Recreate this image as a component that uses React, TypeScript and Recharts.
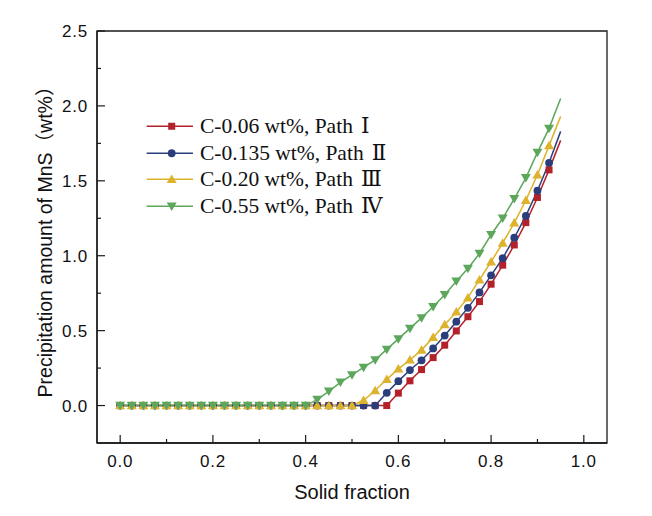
import React from 'react';
import { LineChart, Line, XAxis, YAxis, Legend, Label, ReferenceArea } from 'recharts';

// Solid fraction sampled every 0.025
const solidFraction = [
  0, 0.025, 0.05, 0.075, 0.1, 0.125, 0.15, 0.175, 0.2, 0.225,
  0.25, 0.275, 0.3, 0.325, 0.35, 0.375, 0.4, 0.425, 0.45, 0.475,
  0.5, 0.525, 0.55, 0.575, 0.6, 0.625, 0.65, 0.675, 0.7, 0.725,
  0.75, 0.775, 0.8, 0.825, 0.85, 0.875, 0.9, 0.925, 0.95,
];

// Precipitated MnS (wt%) for each composition / path
const pathI = [
  0, 0, 0, 0, 0, 0, 0, 0, 0, 0,
  0, 0, 0, 0, 0, 0, 0, 0, 0, 0,
  0, 0, 0, 0, 0.083, 0.165, 0.24, 0.32, 0.403, 0.498,
  0.593, 0.694, 0.81, 0.937, 1.072, 1.221, 1.389, 1.573, 1.77,
];
const pathII = [
  0, 0, 0, 0, 0, 0, 0, 0, 0, 0,
  0, 0, 0, 0, 0, 0, 0, 0, 0, 0,
  0, 0, 0, 0.085, 0.163, 0.237, 0.302, 0.381, 0.467, 0.56,
  0.652, 0.755, 0.869, 0.983, 1.12, 1.266, 1.434, 1.62, 1.83,
];
const pathIII = [
  0, 0, 0, 0, 0, 0, 0, 0, 0, 0,
  0, 0, 0, 0, 0, 0, 0, 0, 0, 0,
  0, 0.035, 0.1, 0.175, 0.245, 0.305, 0.37, 0.455, 0.54, 0.625,
  0.72, 0.84, 0.96, 1.085, 1.22, 1.37, 1.54, 1.735, 1.93,
];
const pathIV = [
  0, 0, 0, 0, 0, 0, 0, 0, 0, 0,
  0, 0, 0, 0, 0, 0, 0, 0.04, 0.095, 0.155,
  0.205, 0.255, 0.305, 0.375, 0.445, 0.515, 0.585, 0.66, 0.74, 0.83,
  0.915, 1.015, 1.14, 1.25, 1.38, 1.52, 1.69, 1.85, 2.05,
];

const seriesNames = [
  'C-0.06 wt%, Path Ⅰ',
  'C-0.135 wt%, Path Ⅱ',
  'C-0.20 wt%, Path Ⅲ',
  'C-0.55 wt%, Path Ⅳ',
];

const xTicks = [0, 0.1, 0.2, 0.3, 0.4, 0.5, 0.6, 0.7, 0.8, 0.9, 1.0];
const xMajorTicks = [0, 0.2, 0.4, 0.6, 0.8, 1.0];
const yTicks = [0, 0.25, 0.5, 0.75, 1.0, 1.25, 1.5, 1.75, 2.0, 2.25, 2.5];
const yMajorTicks = [0, 0.5, 1.0, 1.5, 2.0, 2.5];

const xDomain = [-0.05, 1.05];
const yDomain = [-0.25, 2.5];

const data = solidFraction.map((fs, i) => ({
  fs,
  p1: pathI[i],
  p2: pathII[i],
  p3: pathIII[i],
  p4: pathIV[i],
}));

type MarkerKind = 'square' | 'circle' | 'triUp' | 'triDown';

const seriesStyles: { key: string; color: string; marker: MarkerKind }[] = [
  { key: 'p1', color: '#B3212B', marker: 'square' },
  { key: 'p2', color: '#2B3E7C', marker: 'circle' },
  { key: 'p3', color: '#DDB22C', marker: 'triUp' },
  { key: 'p4', color: '#5CA75B', marker: 'triDown' },
];

const AXIS_COLOR = '#1a1a1a';
const TICK_MARGIN = 10;
const tickFont = "'Liberation Sans', Arial, sans-serif";
const legendFont = "'Liberation Serif', 'Times New Roman', 'DejaVu Serif', 'Noto Sans CJK SC', serif";

function Marker({ kind, cx, cy, color }: { kind: MarkerKind; cx: number; cy: number; color: string }) {
  if (kind === 'square') {
    return <rect x={cx - 3.5} y={cy - 3.5} width={7} height={7} fill={color} />;
  }
  if (kind === 'circle') {
    return <circle cx={cx} cy={cy} r={3.9} fill={color} />;
  }
  if (kind === 'triUp') {
    return (
      <polygon
        points={`${cx},${cy - 4.8} ${cx + 5},${cy + 3.7} ${cx - 5},${cy + 3.7}`}
        fill={color}
      />
    );
  }
  return (
    <polygon
      points={`${cx},${cy + 4.8} ${cx + 5},${cy - 3.7} ${cx - 5},${cy - 3.7}`}
      fill={color}
    />
  );
}

// Every sample gets a symbol except the closing point of each curve
function makeDot(kind: MarkerKind, color: string) {
  return (props: any) => {
    const { cx, cy, index } = props;
    if (index === solidFraction.length - 1 || cx == null || cy == null) {
      return <g key={`d-${index}`} />;
    }
    return (
      <g key={`d-${index}`}>
        <Marker kind={kind} cx={cx} cy={cy} color={color} />
      </g>
    );
  };
}

const isMajor = (list: number[], v: number) => list.some((t) => Math.abs(t - v) < 1e-9);

function XTick(props: any) {
  const { x, y, payload } = props;
  const axisY = y - TICK_MARGIN;
  const v = payload.value as number;
  const major = isMajor(xMajorTicks, v);
  return (
    <g>
      <line x1={x} x2={x} y1={axisY} y2={axisY - (major ? 8 : 4)} stroke={AXIS_COLOR} strokeWidth={1.2} />
      {major && (
        <text
          x={x}
          y={axisY + 24}
          textAnchor="middle"
          fontFamily={tickFont}
          fontSize={17}
          letterSpacing={0.8}
          fill="#111"
        >
          {v.toFixed(1)}
        </text>
      )}
    </g>
  );
}

function YTick(props: any) {
  const { x, y, payload } = props;
  const axisX = x + TICK_MARGIN;
  const v = payload.value as number;
  const major = isMajor(yMajorTicks, v);
  return (
    <g>
      <line x1={axisX} x2={axisX + (major ? 8 : 4)} y1={y} y2={y} stroke={AXIS_COLOR} strokeWidth={1.2} />
      {major && (
        <text
          x={axisX - 9}
          y={y + 6}
          textAnchor="end"
          fontFamily={tickFont}
          fontSize={17}
          letterSpacing={0.8}
          fill="#111"
        >
          {v.toFixed(1)}
        </text>
      )}
    </g>
  );
}

function LegendContent() {
  const rowH = 26.5;
  return (
    <div style={{ fontFamily: legendFont, fontSize: 21.5, color: '#111', lineHeight: `${rowH}px` }}>
      {seriesStyles.map((s, i) => {
        const name = seriesNames[i];
        const cut = name.lastIndexOf(' ');
        return (
          <div key={s.key} style={{ display: 'flex', alignItems: 'center', height: rowH, whiteSpace: 'nowrap' }}>
            <svg width={54} height={rowH} style={{ display: 'block' }}>
              <line x1={0.7} x2={47} y1={rowH / 2} y2={rowH / 2} stroke={s.color} strokeWidth={1.5} />
              <Marker kind={s.marker} cx={25.7} cy={rowH / 2} color={s.color} />
            </svg>
            <span>{name.slice(0, cut)}</span>
            <span style={{ marginLeft: 8 }}>{name.slice(cut + 1)}</span>
          </div>
        );
      })}
    </div>
  );
}

export default function App() {
  return (
    <div style={{ position: 'absolute', left: 0, top: 0, width: 652, height: 516, background: '#fff' }}>
      <LineChart
        width={652}
        height={516}
        data={data}
        margin={{ top: 31, right: 45, bottom: 43, left: 37 }}
      >
        <XAxis
          dataKey="fs"
          type="number"
          domain={xDomain}
          allowDataOverflow
          ticks={xTicks}
          interval={0}
          tickSize={0}
          tickMargin={TICK_MARGIN}
          tickLine={false}
          tick={<XTick />}
          height={30}
          axisLine={{ stroke: AXIS_COLOR, strokeWidth: 1.3 }}
        >
          <Label
            value="Solid fraction"
            position="bottom"
            offset={12}
            style={{ fontFamily: tickFont, fontSize: 20, fill: '#111' }}
          />
        </XAxis>
        <YAxis
          type="number"
          domain={yDomain}
          allowDataOverflow
          ticks={yTicks}
          interval={0}
          tickSize={0}
          tickMargin={TICK_MARGIN}
          tickLine={false}
          tick={<YTick />}
          width={60}
          axisLine={{ stroke: AXIS_COLOR, strokeWidth: 1.3 }}
        >
          <Label
            value="Precipitation amount of MnS（wt%）"
            angle={-90}
            position="insideLeft"
            offset={8}
            style={{ textAnchor: 'middle', fontFamily: `${tickFont}, 'Noto Sans CJK SC'`, fontSize: 19.5, fill: '#111' }}
          />
        </YAxis>
        {/* plot frame */}
        <ReferenceArea
          x1={xDomain[0]}
          x2={xDomain[1]}
          y1={yDomain[0]}
          y2={yDomain[1]}
          fill="none"
          fillOpacity={0}
          stroke={AXIS_COLOR}
          strokeWidth={1.3}
          ifOverflow="visible"
        />
        <Legend
          layout="vertical"
          align="center"
          verticalAlign="middle"
          wrapperStyle={{ left: 146, top: 113, width: 'auto' }}
          content={<LegendContent />}
        />
        {seriesStyles.map((s, i) => (
          <Line
            key={s.key}
            dataKey={s.key}
            name={seriesNames[i]}
            type="linear"
            stroke={s.color}
            strokeWidth={1.5}
            dot={makeDot(s.marker, s.color)}
            activeDot={false}
            isAnimationActive={false}
          />
        ))}
      </LineChart>
    </div>
  );
}
